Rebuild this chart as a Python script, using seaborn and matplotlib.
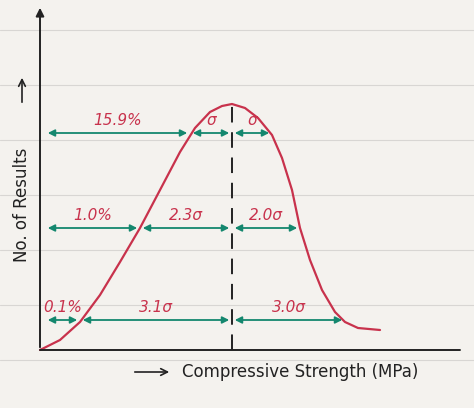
import matplotlib
matplotlib.use("Agg")
import matplotlib.pyplot as plt
import seaborn as sns
import pandas as pd

curve_x = [40,60,80,100,120,140,160,180,195,210,222,232,245,258,272,282,292,300,310,322,335,345,358,380]
curve_y = [0,10,28,55,88,122,160,198,222,238,244,246,242,232,215,192,160,122,90,60,38,28,22,20]
mean_x = 232
rows_y = [217, 122, 30]
row_bounds = [[45,190,232,272],[45,140,232,300],[45,80,232,345]]
row_labels = [["15.9%","σ","σ"],["1.0%","2.3σ","2.0σ"],["0.1%","3.1σ","3.0σ"]]
rule_lines = [375, 320, 265, 210, 155, 100, 45, -10]

sns.set_theme(style="white")
fig = plt.figure(figsize=(4.74,4.08), dpi=100)
fig.patch.set_facecolor("#f4f2ee")
ax = fig.add_axes([0,0,1,1])
ax.set_facecolor("#f4f2ee")
ax.set_xlim(0,474); ax.set_ylim(-58,350)
ax.axis("off")
for r in rule_lines:
    ax.axhline(r, color="#d8d6d3", lw=0.8, zorder=0)

red = "#c8324c"; teal = "#14876e"; ink = "#222222"
df = pd.DataFrame({"x": curve_x, "y": curve_y})
sns.lineplot(data=df, x="x", y="y", ax=ax, color=red, lw=1.6, sort=False)
ax.plot([mean_x, mean_x],[0, 246], color=ink, lw=1.4, ls=(0,(8,5)))
ax.annotate("", xy=(40,345), xytext=(40,0), arrowprops=dict(arrowstyle="-|>", color=ink, lw=1.4))
ax.plot([40,460],[0,0], color=ink, lw=1.4)

for y, b, labs in zip(rows_y, row_bounds, row_labels):
    for i in range(3):
        ax.annotate("", xy=(b[i],y), xytext=(b[i+1],y),
                    arrowprops=dict(arrowstyle="<|-|>", color=teal, lw=1.3, mutation_scale=10))
        ax.text((b[i]+b[i+1])/2, y+5, labs[i], color=red, ha="center", va="bottom",
                fontsize=11, style="italic")

ax.text(22, 145, "No. of Results", rotation=90, ha="center", va="center", fontsize=12, color=ink)
ax.annotate("", xy=(22,275), xytext=(22,245), arrowprops=dict(arrowstyle="->", color=ink, lw=1.2))
ax.text(300, -22, "Compressive Strength (MPa)", ha="center", va="center", fontsize=12, color=ink)
ax.annotate("", xy=(172,-22), xytext=(132,-22), arrowprops=dict(arrowstyle="->", color=ink, lw=1.2))
fig.savefig("out.png", dpi=100, facecolor=fig.get_facecolor())
